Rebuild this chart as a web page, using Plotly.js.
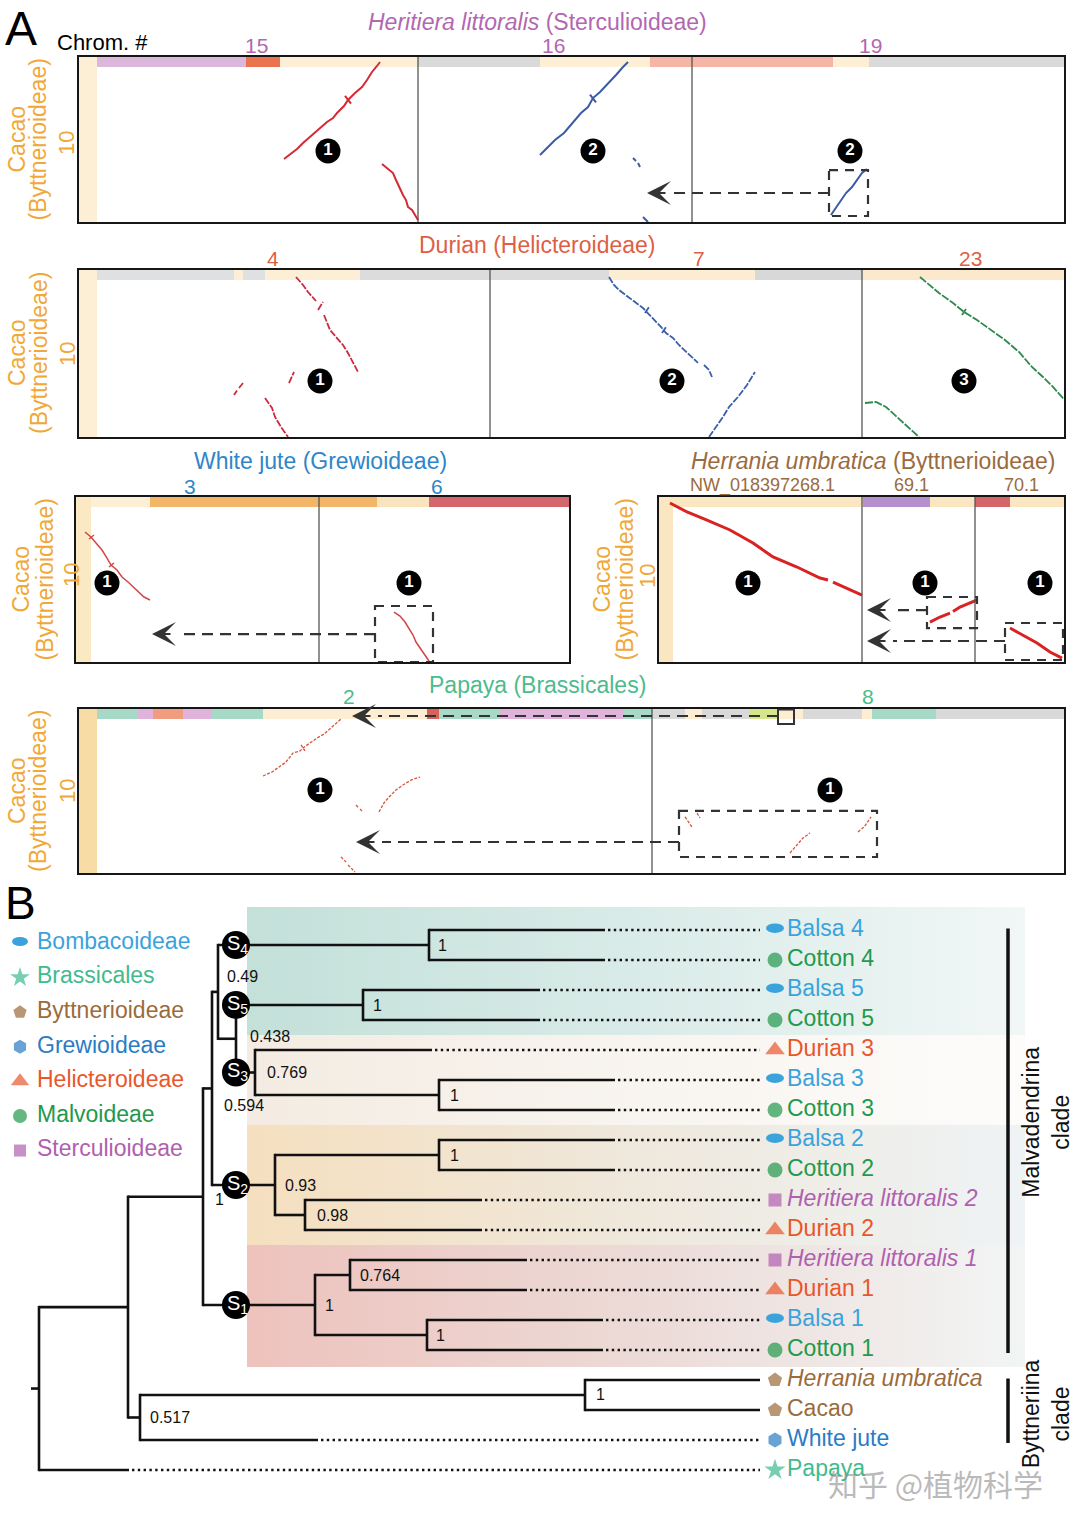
<!DOCTYPE html>
<html><head><meta charset="utf-8">
<script src="https://cdn.plot.ly/plotly-3.0.1.min.js"></script>
<style>html,body{margin:0;padding:0;background:#fff}#chart{width:1080px;height:1529px}</style>
</head><body><div id="chart"></div>
<script>
// ================= DATA =================
// Panel 1: Heritiera littoralis vs Cacao chr10 (Mb)
const p1ChromNames = ['15','16','19'];
const p1ChromBounds = [0, 32.1, 59.5, 96.7];
const p1ChromLabelPos = [15.9, 45.6, 77.3];
const p1BlockStart = [0, 14.9, 18.3, 32.1, 44.3, 55.3, 73.6, 77.2];
const p1BlockEnd   = [14.9, 18.3, 32.1, 44.3, 55.3, 73.6, 77.2, 96.7];
const p1BlockColor = ['#dbb8db','#e9744f','#fcefd5','#dadada','#fcefd5','#f5b6a6','#fcefd5','#dadada'];
const p1RedX = [18.7,19.4,20.0,20.6,21.3,21.8,22.5,23.0,23.6,24.0,24.7,25.1,25.8,26.5,27.0,27.5,28.0,28.3,null,24.8,25.4,null,28.5,29.0,29.6,29.9,30.2,30.6,30.9,31.1,31.5,31.8,32.1];
const p1RedY = [15.33,14.5,13.67,12.67,11.67,11.0,10.0,9.17,8.5,7.67,6.5,5.5,4.33,3.33,2.17,0.83,-0.17,-0.83,null,4.8,6.1,null,16.17,16.83,17.67,18.83,20.0,21.33,22.17,23.33,23.83,24.67,25.5];
const p1BlueX = [44.3,45.0,45.8,46.7,47.6,48.4,49.1,49.6,50.3,51.2,51.9,52.6,53.1,null,49.3,49.9,null,53.6,53.9,null,54.1,54.3,null,54.6,55.1,null,73.4,73.9,74.4,74.9,75.5,76.0,76.5,77.0];
const p1BlueY = [14.67,13.5,12.17,11.0,9.33,7.67,6.67,5.17,4.17,2.67,1.33,0,-0.83,null,4.6,5.9,null,15.17,15.67,null,16.0,16.67,null,25.0,25.83,null,24.67,23.5,22.17,21.0,20.0,18.83,17.67,17.0];
const p1BoxX0 = [73.2], p1BoxX1 = [77.1], p1BoxY0 = [17.17], p1BoxY1 = [24.83];
const p1ArrowFrom = [73.2], p1ArrowTo = [55.0], p1ArrowY = [21.0];
const p1Num = ['1','2','2'], p1NumX = [23.1,49.6,75.3], p1NumY = [14,14,14];

// Panel 2: Durian vs Cacao chr10
const p2ChromNames = ['4','7','23'];
const p2ChromBounds = [0, 39.3, 76.5, 96.7];
const p2ChromLabelPos = [17.6, 60.2, 87.3];
const p2BlockStart = [0, 13.7, 14.6, 16.8, 26.3, 51.2, 65.8, 76.5];
const p2BlockEnd   = [13.7, 14.6, 16.8, 26.3, 51.2, 65.8, 76.5, 96.7];
const p2BlockColor = ['#dfe0e2','#fcefd5','#dfe0e2','#fcefd5','#dcdcdc','#fcecd2','#d8d8d8','#fce9cc'];
const p2RedX = [19.9,20.6,21.1,21.6,21.9,null,22.7,23.0,23.3,23.9,24.6,25.1,25.6,26.1,null,22.1,22.6,null,13.7,14.0,null,14.2,14.6,null,19.2,19.7,null,16.8,17.5,17.8,18.4,19.1];
const p2RedY = [-0.5,0.83,2.0,2.83,3.5,null,5.83,7.17,8.33,9.5,10.83,12.17,13.67,15.33,null,5.0,3.67,null,19.17,18.4,null,18.0,17.17,null,17.17,15.33,null,19.67,21.33,22.83,24.5,26.17];
const p2BlueX = [51.2,51.7,52.2,52.9,53.8,54.6,55.1,55.7,56.4,56.9,57.6,58.2,58.9,59.6,60.1,null,60.7,61.2,61.5,null,54.8,55.2,null,56.5,56.9,null,61.2,61.9,62.6,63.2,64.1,65.0,65.8];
const p2BlueY = [-0.5,0.83,1.67,2.5,3.67,4.67,5.5,6.67,7.83,8.83,9.67,10.83,12.0,13.0,13.83,null,14.17,15.0,16.17,null,5.5,4.5,null,8.83,7.83,null,26.17,24.5,22.83,21.17,19.5,17.5,15.33];
const p2GreenX = [82.3,83.2,84.2,85.6,86.7,88.0,89.4,90.8,92.2,93.5,94.6,95.6,96.7,null,86.5,86.9,null,76.8,77.9,78.9,79.8,80.6,81.5,82.2];
const p2GreenY = [-0.5,0.83,2.17,3.83,5.33,6.67,8.33,10.0,12.0,14.5,16.17,17.83,19.9,null,5.83,4.83,null,20.5,20.33,21.17,22.5,23.83,25.0,26.17];
const p2Num = ['1','2','3'], p2NumX = [22.3,57.5,86.7], p2NumY = [16.83,16.83,16.83];

// Panel 3: White jute vs Cacao chr10
const p3ChromNames = ['3','6'];
const p3ChromBounds = [0, 22.8, 47.8];
const p3ChromLabelPos = [9.9, 34.6];
const p3BlockStart = [0, 5.9, 28.6, 33.8];
const p3BlockEnd   = [5.9, 28.6, 33.8, 47.8];
const p3BlockColor = ['#fcefd3','#f3b568','#fae4bd','#d4676b'];
const p3RedX = [-0.6,0,0.5,1.1,1.6,2.0,2.6,3.1,3.7,4.2,4.8,5.3,5.9,null,-0.2,0.3,null,1.8,2.3,null,30.3,30.9,31.4,31.8,32.2,32.5,32.9,33.3,33.8];
const p3RedY = [4.17,5.0,6.0,7.17,8.5,9.67,10.5,11.67,12.5,13.33,14.17,15.0,15.5,null,5.33,4.67,null,10.0,9.33,null,17.5,18.17,19.17,20.17,21.33,22.5,23.5,24.33,25.67];
const p3BoxX0 = [28.4], p3BoxX1 = [34.2], p3BoxY0 = [16.5], p3BoxY1 = [25.83];
const p3ArrowFrom = [28.4], p3ArrowTo = [6.1], p3ArrowY = [21.17];
const p3Num = ['1','1'], p3NumX = [1.6,31.8], p3NumY = [12.67,12.67];

// Panel 4: Herrania umbratica vs Cacao chr10
const p4ChromNames = ['NW_018397268.1','69.1','70.1'];
const p4ChromBounds = [0, 18.9, 30.2, 39.1];
const p4ChromLabelPos = [8.9, 23.8, 34.8];
const p4BlockStart = [0, 19.0, 25.7, 30.2, 33.7];
const p4BlockEnd   = [19.0, 25.7, 30.2, 33.7, 39.1];
const p4BlockColor = ['#fbe6c2','#b690cc','#fbe6c2','#d4666a','#fbe6c2'];
const p4RedX = [-0.3,1.4,3.4,5.7,8.0,10.0,12.4,14.7,15.5,null,16.0,17.4,18.9,null,25.7,26.7,27.7,null,28.0,28.7,29.4,30.4,null,33.7,35.0,36.4,37.7,38.9];
const p4RedY = [-0.67,0.83,2.17,3.83,6.0,8.33,10.0,11.83,12.17,null,12.5,13.5,14.67,null,19.17,18.33,17.67,null,17.4,16.67,16.17,15.5,null,20.17,21.33,22.67,24.17,25.17];
const p4BoxX0 = [25.4,33.2], p4BoxX1 = [30.4,39.0], p4BoxY0 = [15.0,19.33], p4BoxY1 = [20.17,25.5];
const p4ArrowFrom = [25.4,33.2], p4ArrowTo = [19.4,19.4], p4ArrowY = [17.17,22.33];
const p4Num = ['1','1','1'], p4NumX = [7.5,25.2,36.7], p4NumY = [12.67,12.67,12.67];

// Panel 5: Papaya vs Cacao chr10
const p5ChromNames = ['2','8'];
const p5ChromBounds = [0, 55.5, 96.7];
const p5ChromLabelPos = [25.2, 77.1];
const p5BlockStart = [0,4.1,5.6,8.6,11.5,16.6,33.0,34.2,40.2,52.7,55.5,58.8,60.5,65.3,68.2,70.6,76.5,77.5,83.9];
const p5BlockEnd   = [4.1,5.6,8.6,11.5,16.6,33.0,34.2,40.2,52.7,55.5,58.8,60.5,65.3,68.2,70.6,76.5,77.5,83.9,96.7];
const p5BlockColor = ['#a7d9c7','#e0b4da','#f19c7e','#e0b4da','#a7d9c7','#fcedd3','#d6625c','#a7d9c7','#e0b4da','#a7d9c7','#d9d9d9','#fcedd3','#d9d9d9','#d5e58c','#fcedd3','#d9d9d9','#fcedd3','#a7d9c7','#d9d9d9'];
const p5RedX = [16.6,17.5,18.2,18.9,19.6,20.3,20.6,21.3,22.0,22.7,23.4,23.9,24.4,null,20.4,20.8,null,28.2,28.7,29.2,29.9,30.6,31.4,32.3,null,25.9,26.1,null,26.3,26.6,null,24.4,24.9,null,25.1,25.8,null,58.8,59.5,null,60.0,60.3,null,69.3,70.0,70.6,71.3,null,76.1,76.7,77.2,77.4];
const p5RedY = [9.5,8.83,8.0,7.17,5.67,5.33,4.83,4.0,3.17,2.5,1.5,0.83,0,null,4.33,5.33,null,15.5,14.0,13.0,11.83,11.0,10.17,9.67,null,14.33,14.7,null,15.0,15.5,null,23.0,23.83,null,24.33,25.5,null,16.33,18.0,null,15.67,16.5,null,22.33,21.0,19.83,19.0,null,18.83,18.0,16.83,16.33];
const p5SolidBoxX0 = [68.1], p5SolidBoxX1 = [69.7], p5SolidBoxY0 = [-1.6], p5SolidBoxY1 = [0.83];
const p5BoxX0 = [58.2], p5BoxX1 = [78.0], p5BoxY0 = [15.33], p5BoxY1 = [23.0];
const p5ArrowFrom = [68.1,58.2], p5ArrowTo = [25.5,25.9], p5ArrowY = [-0.5,20.5];
const p5Num = ['1','1'], p5NumX = [22.3,73.3], p5NumY = [11.83,11.83];

// Tree (panel B)
const leafNames = ['Balsa 4','Cotton 4','Balsa 5','Cotton 5','Durian 3','Balsa 3','Cotton 3','Balsa 2','Cotton 2','Heritiera littoralis 2','Durian 2','Heritiera littoralis 1','Durian 1','Balsa 1','Cotton 1','Herrania umbratica','Cacao','White jute','Papaya'];
const leafGroup = ['Bombacoideae','Malvoideae','Bombacoideae','Malvoideae','Helicteroideae','Bombacoideae','Malvoideae','Bombacoideae','Malvoideae','Sterculioideae','Helicteroideae','Sterculioideae','Helicteroideae','Bombacoideae','Malvoideae','Byttnerioideae','Byttnerioideae','Grewioideae','Brassicales'];
const leafItalic = [false,false,false,false,false,false,false,false,false,true,false,true,false,false,false,true,false,false,false];
const leafParent = ['G','G','Q','Q','H','I','I','K','K','L','L','N','N','O','O','HC','HC','B','root'];
const leafSolidEnd = [566,566,501,501,393,576,576,576,576,443,443,488,488,564,564,721,721,279,90];
const dottedEnd = 721;
const nodeNames  = ['root','A','B','HC','C','D','E','G','P','Q','H','I','J','K','L','M','N','O'];
const nodeParent = [null,'root','A','B','A','C','D','E','E','P','P','H','D','J','J','C','M','M'];
const nodeDepth  = [0,89,101,546,164,173,179,390,197,324,216,400,236,400,266,276,311,388];
const supportNode  = ['G','Q','H','I','K','J','L','M','N','O','HC','B','C','E','P','D'];
const supportValue = ['1','1','0.769','1','1','0.93','0.98','1','0.764','1','1','0.517','1','0.49','0.438','0.594'];
const subgenomeLabel = ['4','5','3','2','1'];
const subgenomeNode  = ['G','Q','H','J','M'];
const subgenomeDepth = 197;
const legendGroups = ['Bombacoideae','Brassicales','Byttnerioideae','Grewioideae','Helicteroideae','Malvoideae','Sterculioideae'];
const shadeFirst = ['Balsa 4','Durian 3','Balsa 2','Heritiera littoralis 1'];
const shadeLast  = ['Cotton 5','Cotton 3','Durian 2','Cotton 1'];
const cladeNames = ['Malvadendrina','Byttneriina'];
const cladeFirst = ['Balsa 4','Herrania umbratica'];
const cladeLast  = ['Cotton 1','White jute'];

// ================= STYLE / BUILD =================
const FONT = '"Liberation Sans", Arial, Helvetica, sans-serif';
const W = 1080, H = 1529, TOP = -1.667;
const CACAO = '#f0a838';
const groupStyle = {
  Bombacoideae:{color:'#3aa3dc', symbol:'ellipse', size:0},
  Brassicales:{color:'#3fbb8f', symbol:'star', size:16},
  Byttnerioideae:{color:'#9b6b3b', symbol:'pentagon', size:15},
  Grewioideae:{color:'#2a7cc5', symbol:'hexagon', size:15},
  Helicteroideae:{color:'#e8572c', symbol:'triangle-up', size:17},
  Malvoideae:{color:'#22994b', symbol:'circle', size:15},
  Sterculioideae:{color:'#b060b0', symbol:'square', size:13}
};

const panelDefs = [
 {k:1, box:[79,1064,57,222], xmin:-1.8, xmax:96.7, ymax:25.83, stripe:'#fcefd5', color:'#b267b2',
  title:'<i>Heritiera littoralis</i> (Sterculioideae)', titleX:537, titleY:22, chromY:45, chromSize:21,
  names:p1ChromNames, bounds:p1ChromBounds, labelPos:p1ChromLabelPos, bs:p1BlockStart, be:p1BlockEnd, bc:p1BlockColor,
  lines:[{x:p1RedX,y:p1RedY,c:'#d42a35',w:2},{x:p1BlueX,y:p1BlueY,c:'#3b5ba5',w:2}],
  boxes:[p1BoxX0,p1BoxX1,p1BoxY0,p1BoxY1], arrows:[p1ArrowFrom,p1ArrowTo,p1ArrowY], num:[p1Num,p1NumX,p1NumY],
  cacao:[17,38,67,139.5,143]},
 {k:2, box:[79,1064,270,437], xmin:-1.8, xmax:96.7, ymax:26.17, stripe:'#fcefd5', color:'#de5f45',
  title:'Durian (Helicteroideae)', titleX:537, titleY:245, chromY:258, chromSize:21,
  names:p2ChromNames, bounds:p2ChromBounds, labelPos:p2ChromLabelPos, bs:p2BlockStart, be:p2BlockEnd, bc:p2BlockColor,
  lines:[{x:p2RedX,y:p2RedY,c:'#cc2a3e',w:1.8,d:'7px,1.5px'},{x:p2BlueX,y:p2BlueY,c:'#3a5fa8',w:1.8,d:'7px,1.5px'},{x:p2GreenX,y:p2GreenY,c:'#2f8a4f',w:1.8,d:'8px,1.5px'}],
  boxes:null, arrows:null, num:[p2Num,p2NumX,p2NumY],
  cacao:[17,39,67,353,354]},
 {k:3, box:[76,569,497,662], xmin:-1.5, xmax:47.8, ymax:25.83, stripe:'#fbe9c4', color:'#2e86c8',
  title:'White jute (Grewioideae)', titleX:320, titleY:461, chromY:486, chromSize:21,
  names:p3ChromNames, bounds:p3ChromBounds, labelPos:p3ChromLabelPos, bs:p3BlockStart, be:p3BlockEnd, bc:p3BlockColor,
  lines:[{x:p3RedX,y:p3RedY,c:'#d24646',w:1.5}],
  boxes:[p3BoxX0,p3BoxX1,p3BoxY0,p3BoxY1], arrows:[p3ArrowFrom,p3ArrowTo,p3ArrowY], num:[p3Num,p3NumX,p3NumY],
  cacao:[20,44,71,579.5,575]},
 {k:4, box:[659,1064,497,662], xmin:-1.4, xmax:39.1, ymax:25.83, stripe:'#fbe6c2', color:'#9a6b3e',
  title:'<i>Herrania umbratica</i> (Byttnerioideae)', titleX:873, titleY:461, chromY:485, chromSize:18,
  names:p4ChromNames, bounds:p4ChromBounds, labelPos:p4ChromLabelPos, bs:p4BlockStart, be:p4BlockEnd, bc:p4BlockColor,
  lines:[{x:p4RedX,y:p4RedY,c:'#d92222',w:3}],
  boxes:[p4BoxX0,p4BoxX1,p4BoxY0,p4BoxY1], arrows:[p4ArrowFrom,p4ArrowTo,p4ArrowY], num:[p4Num,p4NumX,p4NumY],
  cacao:[601,624,647,579.5,576]},
 {k:5, box:[79,1064,709,873], xmin:-1.8, xmax:96.7, ymax:25.67, stripe:'#f7dda5', color:'#4dbb8c',
  title:'Papaya (Brassicales)', titleX:537, titleY:685, chromY:696, chromSize:21,
  names:p5ChromNames, bounds:p5ChromBounds, labelPos:p5ChromLabelPos, bs:p5BlockStart, be:p5BlockEnd, bc:p5BlockColor,
  lines:[{x:p5RedX,y:p5RedY,c:'#d8553c',w:1.3,d:'3px,1.5px'}],
  boxes:[p5BoxX0,p5BoxX1,p5BoxY0,p5BoxY1], arrows:[p5ArrowFrom,p5ArrowTo,p5ArrowY], num:[p5Num,p5NumX,p5NumY],
  solidBox:[p5SolidBoxX0,p5SolidBoxX1,p5SolidBoxY0,p5SolidBoxY1],
  cacao:[17,38,67,791,791]}
];

const traces = [], shapes = [], annotations = [];
const layout = {width:W, height:H, margin:{l:0,r:0,t:0,b:0,pad:0}, paper_bgcolor:'#fff', plot_bgcolor:'rgba(0,0,0,0)',
  showlegend:false, font:{family:FONT, color:'#111'}, shapes:shapes, annotations:annotations};
const axisBase = {showgrid:false, zeroline:false, showticklabels:false, ticks:'', showline:true, mirror:true, linecolor:'#161616', linewidth:2, fixedrange:true};
const sfx = k => (k===1 ? '' : String(k));
const pY = p => 1 - p / H;

panelDefs.forEach(p => {
  const s = sfx(p.k), xa = 'x'+s, ya = 'y'+s;
  layout['xaxis'+s] = Object.assign({}, axisBase, {domain:[p.box[0]/W, p.box[1]/W], range:[p.xmin, p.xmax], anchor:ya});
  layout['yaxis'+s] = Object.assign({}, axisBase, {domain:[1-p.box[3]/H, 1-p.box[2]/H], range:[p.ymax, TOP], anchor:xa});
  p.bs.forEach((b,i) => shapes.push({type:'rect', xref:xa, yref:ya, x0:b, x1:p.be[i], y0:TOP, y1:0, fillcolor:p.bc[i], line:{width:0}, layer:'below'}));
  shapes.push({type:'rect', xref:xa, yref:ya, x0:p.xmin, x1:0, y0:TOP, y1:p.ymax, fillcolor:p.stripe, line:{width:0}, layer:'below'});
  p.bounds.slice(1,-1).forEach(b => shapes.push({type:'line', xref:xa, yref:ya, x0:b, x1:b, y0:TOP, y1:p.ymax, line:{color:'#555', width:1.3}}));
  p.lines.forEach(l => traces.push({type:'scatter', mode:'lines', x:l.x, y:l.y, xaxis:xa, yaxis:ya, connectgaps:false,
    line:{color:l.c, width:l.w, dash:l.d || 'solid'}, hoverinfo:'skip'}));
  if (p.boxes) p.boxes[0].forEach((x0,i) => shapes.push({type:'rect', xref:xa, yref:ya, x0:x0, x1:p.boxes[1][i], y0:p.boxes[2][i], y1:p.boxes[3][i],
    line:{color:'#333', width:2.2, dash:'9px,7px'}, fillcolor:'rgba(0,0,0,0)'}));
  if (p.solidBox) p.solidBox[0].forEach((x0,i) => shapes.push({type:'rect', xref:xa, yref:ya, x0:x0, x1:p.solidBox[1][i], y0:p.solidBox[2][i], y1:p.solidBox[3][i],
    line:{color:'#333', width:2}, fillcolor:'rgba(0,0,0,0)'}));
  if (p.arrows) p.arrows[0].forEach((f,i) => {
    const to = p.arrows[1][i], y = p.arrows[2][i];
    shapes.push({type:'line', xref:xa, yref:ya, x0:f, x1:to + 2.6, y0:y, y1:y, line:{color:'#333', width:2.2, dash:'11px,7px'}});
    annotations.push({xref:xa, yref:ya, x:to, y:y, ax:20, ay:0, text:'', showarrow:true, arrowhead:3, arrowsize:2, arrowwidth:2, arrowcolor:'#333', standoff:0});
  });
  traces.push({type:'scatter', mode:'markers+text', x:p.num[1], y:p.num[2], text:p.num[0].map(t => '<b>'+t+'</b>'), xaxis:xa, yaxis:ya,
    textposition:'middle center', marker:{size:25, color:'#000'}, textfont:{color:'#fff', size:17, family:FONT}, hoverinfo:'skip', cliponaxis:false});
  p.names.forEach((n,i) => annotations.push({xref:xa, yref:'paper', x:p.labelPos[i], y:pY(p.chromY), text:n, showarrow:false,
    xanchor:'center', yanchor:'middle', font:{size:p.chromSize, color:p.color, family:FONT}}));
  annotations.push({xref:'paper', yref:'paper', x:p.titleX/W, y:pY(p.titleY), text:p.title, showarrow:false, xanchor:'center', yanchor:'middle',
    font:{size:23, color:p.color, family:FONT}});
  annotations.push({xref:'paper', yref:'paper', x:p.cacao[0]/W, y:pY(p.cacao[3]), text:'Cacao', textangle:-90, showarrow:false, xanchor:'center', yanchor:'middle', font:{size:23, color:CACAO, family:FONT}});
  annotations.push({xref:'paper', yref:'paper', x:p.cacao[1]/W, y:pY(p.cacao[3]), text:'(Byttnerioideae)', textangle:-90, showarrow:false, xanchor:'center', yanchor:'middle', font:{size:23, color:CACAO, family:FONT}});
  annotations.push({xref:'paper', yref:'paper', x:p.cacao[2]/W, y:pY(p.cacao[4]), text:'10', textangle:-90, showarrow:false, xanchor:'center', yanchor:'middle', font:{size:22, color:CACAO, family:FONT}});
});

annotations.push({xref:'paper', yref:'paper', x:3/W, y:1, text:'A', showarrow:false, xanchor:'left', yanchor:'top', font:{size:48, color:'#000', family:FONT}});
annotations.push({xref:'paper', yref:'paper', x:102/W, y:pY(43), text:'Chrom. #', showarrow:false, xanchor:'center', yanchor:'middle', font:{size:22, color:'#000', family:FONT}});
annotations.push({xref:'paper', yref:'paper', x:3/W, y:pY(903), text:'B', showarrow:false, xanchor:'left', yanchor:'middle', font:{size:46, color:'#000', family:FONT}});

// ---------- Tree ----------
const TX = 'x6', TY = 'y6';
layout.xaxis6 = {domain:[0,1], range:[-39, 1041], anchor:TY, visible:false, fixedrange:true};
layout.yaxis6 = {domain:[0, 1-880/H], range:[19.967, -1.667], anchor:TX, visible:false, fixedrange:true};

const depth = {}; nodeNames.forEach((n,i) => depth[n] = nodeDepth[i]);
const children = {}; nodeNames.forEach(n => children[n] = []);
nodeNames.forEach((n,i) => { if (nodeParent[i]) children[nodeParent[i]].push({leaf:false, name:n}); });
leafNames.forEach((n,i) => children[leafParent[i]].push({leaf:true, idx:i}));
const ypos = {};
function yOf(n){ if (ypos[n] !== undefined) return ypos[n];
  const ys = children[n].map(c => c.leaf ? c.idx : yOf(c.name));
  ypos[n] = (Math.min(...ys) + Math.max(...ys)) / 2; return ypos[n]; }
yOf('root');
const leafIdx = {}; leafNames.forEach((n,i) => leafIdx[n] = i);

const shadeColors = [['#c3e0d9','#d9ebe8','#f1f7f6'],['#f4ece2','#f8f4ef','#fdfcfb'],['#f5dfbf','#efe8dc','#eef3f5'],['#eec2bd','#ecdad6','#f2f5f5']];
shadeFirst.forEach((f,i) => {
  const a = leafIdx[f] - (i===0 ? 0.77 : 0.5), b = leafIdx[shadeLast[i]] + (i===shadeFirst.length-1 ? 0.57 : 0.5);
  const x0 = 208, x1 = 986, c = shadeColors[i];
  traces.push({type:'scatter', mode:'lines', x:[x0,x1,x1,x0,x0], y:[a,a,b,b,a], fill:'toself', xaxis:TX, yaxis:TY,
    line:{width:0, color:'rgba(0,0,0,0)'}, fillcolor:c[1],
    fillgradient:{type:'horizontal', colorscale:[[0,c[0]],[0.5,c[1]],[1,c[2]]]}, hoverinfo:'skip'});
});

const sX=[], sY=[], dX=[], dY=[];
const seg = (ax, ay, x0, x1, y0, y1) => { ax.push(x0, x1, null); ay.push(y0, y1, null); };
nodeNames.forEach((n,i) => {
  const ys = children[n].map(c => c.leaf ? c.idx : ypos[c.name]);
  seg(sX, sY, depth[n], depth[n], Math.min(...ys) - 0.04, Math.max(...ys) + 0.04);
  if (nodeParent[i]) seg(sX, sY, depth[nodeParent[i]], depth[n], ypos[n], ypos[n]);
});
seg(sX, sY, -8, 0, ypos.root, ypos.root);
leafNames.forEach((n,i) => {
  seg(sX, sY, depth[leafParent[i]], leafSolidEnd[i], i, i);
  if (leafSolidEnd[i] < dottedEnd) seg(dX, dY, leafSolidEnd[i] + 3, dottedEnd, i, i);
});
traces.push({type:'scatter', mode:'lines', x:sX, y:sY, xaxis:TX, yaxis:TY, line:{color:'#111', width:2.6}, connectgaps:false, hoverinfo:'skip'});
traces.push({type:'scatter', mode:'lines', x:dX, y:dY, xaxis:TX, yaxis:TY, line:{color:'#111', width:2.4, dash:'2.4px,3.4px'}, connectgaps:false, hoverinfo:'skip'});

const cladeLabelShift = [-0.6, 0.12];
cladeNames.forEach((c,i) => {
  const a = leafIdx[cladeFirst[i]] - 0.05, b = leafIdx[cladeLast[i]] + 0.1;
  traces.push({type:'scatter', mode:'lines', x:[969,969], y:[a,b], xaxis:TX, yaxis:TY, line:{color:'#111', width:3.5}, hoverinfo:'skip'});
  annotations.push({xref:TX, yref:TY, x:1007, y:(a+b)/2 + cladeLabelShift[i], text:c+'<br>clade', textangle:-90, showarrow:false,
    xanchor:'center', yanchor:'middle', font:{size:23, color:'#111', family:FONT}});
});

traces.push({type:'scatter', mode:'markers', x:subgenomeNode.map(() => subgenomeDepth), y:subgenomeNode.map(n => ypos[n]), xaxis:TX, yaxis:TY,
  marker:{size:28, color:'#000'}, hoverinfo:'skip'});
subgenomeNode.forEach((n,i) => annotations.push({xref:TX, yref:TY, x:subgenomeDepth, y:ypos[n], xshift:1, yshift:1, text:'S<sub>'+subgenomeLabel[i]+'</sub>',
  showarrow:false, xanchor:'center', yanchor:'middle', font:{size:20, color:'#fff', family:FONT}}));

const nudge = {E:[7,-15], P:[12,-2], D:[10,17], C:[10,3], B:[8,0], H:[10,0], J:[8,0], L:[10,0], M:[8,0], N:[8,0], O:[7,0], G:[7,0], Q:[8,0], I:[9,0], K:[9,0], HC:[9,0]};
supportNode.forEach((n,i) => { const o = nudge[n] || [8,0];
  annotations.push({xref:TX, yref:TY, x:depth[n], y:ypos[n], xshift:o[0], yshift:-o[1], text:supportValue[i], showarrow:false,
    xanchor:'left', yanchor:'middle', font:{size:16, color:'#111', family:FONT}}); });

const mIdx = leafNames.map((n,i) => i).filter(i => groupStyle[leafGroup[i]].symbol !== 'ellipse');
traces.push({type:'scatter', mode:'markers', x:mIdx.map(() => 736), y:mIdx, xaxis:TX, yaxis:TY,
  marker:{symbol:mIdx.map(i => groupStyle[leafGroup[i]].symbol), size:mIdx.map(i => groupStyle[leafGroup[i]].size), color:mIdx.map(i => groupStyle[leafGroup[i]].color), line:{width:0}}, hoverinfo:'skip'});
leafNames.forEach((n,i) => { if (groupStyle[leafGroup[i]].symbol === 'ellipse')
  shapes.push({type:'circle', xref:TX, yref:TY, x0:727, x1:745, y0:i-0.22, y1:i+0.1, fillcolor:groupStyle[leafGroup[i]].color, line:{width:0}}); });
traces.push({type:'scatter', mode:'text', x:leafNames.map(() => 748), y:leafNames.map((n,i) => i), xaxis:TX, yaxis:TY,
  text:leafNames.map((n,i) => leafItalic[i] ? '<i>'+n+'</i>' : n), textposition:'middle right',
  textfont:{size:23, family:FONT, color:leafGroup.map(g => groupStyle[g].color)}, hoverinfo:'skip', cliponaxis:false});

const legY = legendGroups.map((g,k) => 0.433 + k * 1.153);
const lIdx = legendGroups.map((g,k) => k).filter(k => groupStyle[legendGroups[k]].symbol !== 'ellipse');
traces.push({type:'scatter', mode:'markers', x:lIdx.map(() => -19), y:lIdx.map(k => legY[k]), xaxis:TX, yaxis:TY,
  marker:{symbol:lIdx.map(k => groupStyle[legendGroups[k]].symbol), size:lIdx.map(k => groupStyle[legendGroups[k]].size - 1), color:lIdx.map(k => groupStyle[legendGroups[k]].color), line:{width:0}}, hoverinfo:'skip', cliponaxis:false});
legendGroups.forEach((g,k) => { if (groupStyle[g].symbol === 'ellipse')
  shapes.push({type:'circle', xref:TX, yref:TY, x0:-27, x1:-11, y0:legY[k]-0.2, y1:legY[k]+0.1, fillcolor:groupStyle[g].color, line:{width:0}}); });
traces.push({type:'scatter', mode:'text', x:legendGroups.map(() => -2), y:legY, xaxis:TX, yaxis:TY, text:legendGroups, textposition:'middle right',
  textfont:{size:23, family:FONT, color:legendGroups.map(g => groupStyle[g].color)}, hoverinfo:'skip', cliponaxis:false});

annotations.push({xref:'paper', yref:'paper', x:935/W, y:pY(1483), text:'知乎 @植物科学', showarrow:false, xanchor:'center', yanchor:'middle',
  font:{size:30, color:'rgba(140,140,140,0.6)', family:'"Noto Sans CJK SC", sans-serif'}});

Plotly.newPlot('chart', traces, layout, {staticPlot:true, displayModeBar:false});
</script></body></html>
